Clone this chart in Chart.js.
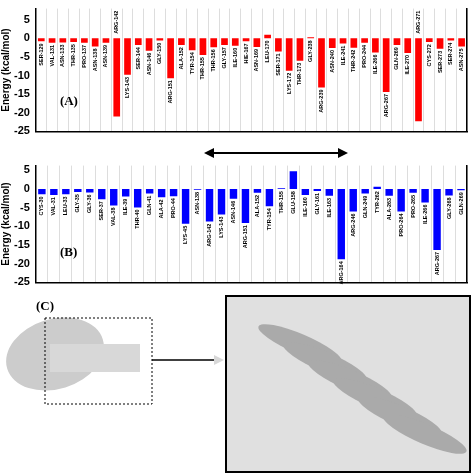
<!DOCTYPE html><html><head><script src="https://cdn.jsdelivr.net/npm/chart.js@4"></script>
<style>body{margin:0;background:#fff;width:474px;height:474px;position:relative;overflow:hidden}
.c{position:absolute;left:0;width:474px}</style></head><body>
<div class="c" style="top:0;height:140px"><canvas id="a"></canvas></div>
<div class="c" style="top:157px;height:134px"><canvas id="b"></canvas></div>
<canvas id="img" width="474" height="180" style="position:absolute;left:0;top:294px"></canvas>
<script>
const labelsA=["SER-129","VAL-131","ASN-133","THR-135","PRO-137","ASN-138","ASN-139","ARG-142","LYS-143","SER-144","ASN-146","GLY-150","ARG-151","ALA-152","TYR-154","THR-155","THR-156","GLY-157","ILE-160","HIE-167","ASN-169","LEU-170","SER-171","LYS-172","THR-173","GLY-238","ARG-239","ASN-240","ILE-241","THR-242","PRO-244","ILE-266","ARG-267","GLN-269","ILE-270","ARG-271","CYS-272","SER-273","SER-274","ASN-275"];
const valuesA=[-0.8,-1.2,-1.1,-1.0,-1.2,-2.2,-1.2,-21,-9.8,-1.8,-3.3,-0.6,-10.7,-1.8,-3.2,-4.5,-2.4,-1.8,-2.0,-0.8,-2.3,1.0,-3.5,-8.7,-6.0,0.3,-13.2,-2.6,-1.4,-2.5,-1.2,-3.8,-14.4,-1.8,-3.9,-22.3,-1.0,-2.8,-0.6,-2.2];
const labelsB=["CYS-30","VAL-31","LEU-33","GLY-35","GLY-36","SER-37","VAL-38","ILE-39","THR-40","GLN-41","ALA-42","PRO-44","LYS-45","ASN-138","ARG-142","LYS-143","ASN-146","ARG-151","ALA-152","TYR-154","THR-155","GLU-158","ILE-160","GLY-161","ILE-163","ARG-164","ARG-246","GLN-249","TYR-262","ALA-263","PRO-264","PRO-265","ILE-266","ARG-267","GLY-268","GLN-269"];
const valuesB=[-1.4,-1.6,-1.4,-0.8,-0.9,-2.7,-4.4,-2.0,-4.9,-1.2,-2.2,-1.9,-9.3,-0.2,-8.7,-6.8,-2.6,-9.1,-1.0,-4.6,0.2,4.8,-1.6,-0.5,-1.8,-18.8,-6.0,-1.2,0.6,-1.8,-6.0,-1.0,-3.6,-16.3,-1.7,-0.3];
const yTicks=[5,0,-5,-10,-15,-20,-25];
function mk(id,labels,values,color,tag,min,max,thr){
 const lab={id:'lab',afterDatasetsDraw(c){const ctx=c.ctx,x=c.scales.x,y=c.scales.y;ctx.save();ctx.font='bold 5.5px Arial';ctx.fillStyle='#000';
  labels.forEach((l,i)=>{const v=values[i];const px=x.getPixelForValue(i);
   const py=v<thr?c.chartArea.top+2:y.getPixelForValue(Math.min(v,0))+2;
   ctx.save();ctx.translate(px,py);ctx.rotate(-Math.PI/2);ctx.textAlign='right';ctx.textBaseline='middle';ctx.fillText(l,0,0);ctx.restore();});
  ctx.font='bold 13px "Liberation Serif"';ctx.textAlign='left';ctx.fillText(tag,c.chartArea.left+24,y.getPixelForValue(-18));ctx.restore();}};
 const tk=s=>{s.ticks=yTicks.filter(t=>t>=min&&t<=max).map(v=>({value:v}));};
 return new Chart(document.getElementById(id),{type:'bar',data:{labels,datasets:[{data:values,backgroundColor:color,barPercentage:0.62,categoryPercentage:1}]},
 options:{responsive:true,maintainAspectRatio:false,animation:false,layout:{padding:{top:4,right:3,bottom:2}},plugins:{legend:{display:false},tooltip:{enabled:false}},
 scales:{x:{ticks:{display:false},grid:{offset:true,color:'#ddd',drawTicks:false},border:{color:'#000',width:1.5}},
 y:{min,max,afterBuildTicks:tk,ticks:{autoSkip:false,color:'#000',font:{weight:'bold',size:11,family:'Arial'},padding:2},grid:{display:false,tickLength:4},border:{color:'#000',width:1.5},
 title:{display:true,text:'Energy (kcal/mol)',color:'#000',font:{weight:'bold',size:10,family:'Arial'},padding:0}},
 y2:{position:'right',min,max,afterBuildTicks:tk,ticks:{display:false},grid:{display:false,tickLength:4},border:{color:'#000',width:1.5}}}},plugins:[lab]});
}
mk('a',labelsA,valuesA,'#f00','(A)',-25,8,-17);
mk('b',labelsB,valuesB,'#00f','(B)',-25,6.3,-30);
const d=document.createElement('canvas');d.width=474;d.height=14;d.style.cssText='position:absolute;left:0;top:146px';document.body.appendChild(d);
const g=d.getContext('2d');g.strokeStyle='#000';g.fillStyle='#000';g.lineWidth=2;g.beginPath();g.moveTo(212,7);g.lineTo(340,7);g.stroke();
g.beginPath();g.moveTo(204,7);g.lineTo(214,2);g.lineTo(214,12);g.fill();g.beginPath();g.moveTo(348,7);g.lineTo(338,2);g.lineTo(338,12);g.fill();
const k=document.getElementById('img').getContext('2d');
k.font='bold 13px "Liberation Serif"';k.fillStyle='#000';k.fillText('(C)',36,16);
k.fillStyle='#ccc';k.beginPath();k.ellipse(55,60,50,35,-0.3,0,Math.PI*2);k.fill();
k.fillStyle='#d8d8d8';k.fillRect(50,50,90,28);
k.setLineDash([2,2]);k.strokeStyle='#000';k.lineWidth=1;k.strokeRect(45,24,107,86);k.setLineDash([]);
k.lineWidth=1.5;k.beginPath();k.moveTo(152,66);k.lineTo(218,66);k.stroke();k.beginPath();k.moveTo(224,66);k.lineTo(214,61);k.lineTo(214,71);k.fill();
k.fillStyle='#e0e0e0';k.fillRect(226,2,244,176);k.lineWidth=2;k.strokeRect(226,2,244,176);
k.fillStyle='#aaa';for(let i=0;i<6;i++){k.beginPath();k.ellipse(300+i*25,50+i*18,45,10,0.4,0,Math.PI*2);k.fill();}
</script></body></html>
